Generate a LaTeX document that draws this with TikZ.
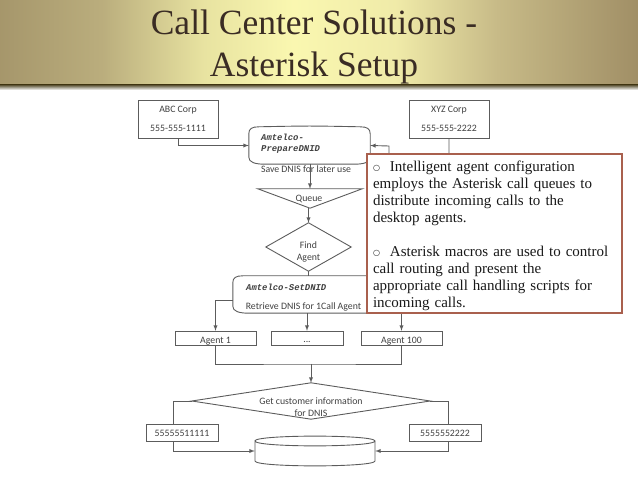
\documentclass[tikz,border=0pt]{standalone}
\usepackage{fontspec}
\setmainfont{Liberation Serif}
\newfontfamily\boxfont{Carlito}
\newfontfamily\codefont{Liberation Mono}
\newfontfamily\ringfont{DejaVu Sans}
\usetikzlibrary{arrows,positioning,calc}
\definecolor{linegray}{HTML}{5C5C5C}
\definecolor{textgray}{HTML}{404040}
\definecolor{titlebrown}{HTML}{3A2C24}
\definecolor{calloutred}{HTML}{A9604E}
\definecolor{banddark}{HTML}{5F5638}
\pgfdeclarehorizontalshading{titleband}{100bp}{
  rgb(0bp)=(0.65,0.59,0.42);
  rgb(25bp)=(0.65,0.59,0.42);
  rgb(33bp)=(0.73,0.68,0.49);
  rgb(41bp)=(0.91,0.89,0.63);
  rgb(48bp)=(0.98,0.97,0.69);
  rgb(56bp)=(0.94,0.92,0.66);
  rgb(64bp)=(0.78,0.73,0.53);
  rgb(75bp)=(0.63,0.56,0.40);
  rgb(100bp)=(0.63,0.56,0.40)}
\tikzstyle{corpbox}=[draw=linegray,fill=white,align=center,inner sep=0pt,minimum width=80pt,minimum height=38pt,text=textgray,font=\boxfont\fontsize{9.8}{10.5}\selectfont]
\tikzstyle{agentbox}=[draw=linegray,inner sep=0pt,minimum height=14pt,text=textgray,font=\boxfont\fontsize{9.8}{11}\selectfont]
\tikzstyle{numbox}=[agentbox,minimum width=72pt,minimum height=17pt]
\tikzstyle{outline}=[inner sep=0pt]
\tikzstyle{boxtext}=[inner sep=0pt,align=center,text=textgray,font=\boxfont\fontsize{9.8}{12}\selectfont]
\tikzstyle{codetext}=[inner sep=0pt,align=left,anchor=west,text=textgray,font=\codefont\bfseries\itshape\fontsize{8.9}{11}\selectfont]
\tikzstyle{flow}=[draw=linegray,line width=0.9pt]
\tikzstyle{conn}=[flow,-latex]
\newcommand{\ringmark}{{\ringfont\fontsize{8}{8}\selectfont\raisebox{1pt}{○}}}
\newcommand{\lowtext}[2]{\raisebox{#1}[0pt][0pt]{#2}}
\begin{document}
\begin{tikzpicture}[x=1pt,y=-1pt]
\useasboundingbox (0,0) rectangle (638,478);
% title band
\shade[shading=titleband] (0,0) rectangle (638,85);
\fill[top color=banddark,bottom color=white] (0,85) rectangle (638,90);
\node [inner sep=0pt,align=center,text=titlebrown,font=\fontsize{35.5}{42}\selectfont] (title) at (314,47) {Call Center Solutions -\\Asterisk Setup};
% top row
\node [corpbox] (abc) at (178,119) {ABC Corp\\[9pt]555-555-1111};
\node [corpbox] (xyz) at (449,119) {XYZ Corp\\[9pt]555-555-2222};
\node [outline,minimum width=121pt,minimum height=37pt] (prepare) at (309.5,145.5) {};
\draw [flow] ($(prepare.south west)+(0,-7)$) -- ($(prepare.north west)+(0,7)$)
  .. controls ($(prepare.north west)+(0,2)$) and ($(prepare.north west)+(3,0)$) .. ($(prepare.north west)+(10,0)$)
  .. controls ($(prepare.north)+(0,-1)$) .. ($(prepare.north east)+(-10,0)$)
  .. controls ($(prepare.north east)+(-3,0)$) and ($(prepare.north east)+(0,2)$) .. ($(prepare.north east)+(0,7)$)
  -- ($(prepare.south east)+(0,-7)$)
  .. controls ($(prepare.south east)+(0,-2)$) and ($(prepare.south east)+(-6,0)$) .. ($(prepare.south east)+(-16,0)$)
  -- ($(prepare.south west)+(16,0)$)
  .. controls ($(prepare.south west)+(6,0)$) and ($(prepare.south west)+(0,-2)$) .. cycle;
\node [codetext] (preparetext) at (261,143.5) {Amtelco-\\PrepareDNID};
\node [boxtext] (savetext) at (306,169) {Save DNIS for later use};
\draw [conn] (abc.south) |- (prepare.west);
\draw [conn] (xyz.south) |- (389,162) -- (389,146) -- (prepare.east);
% queue and find agent
\node [outline,minimum width=104pt,minimum height=19pt] (queue) at (310,198.5) {};
\draw [flow] (queue.north west) -- (queue.north east) -- (queue.south) -- cycle;
\node [boxtext] (queuetext) at (309,199) {Queue};
\node [outline,minimum width=85pt,minimum height=48pt] (findagent) at (308.5,247) {};
\draw [flow] (findagent.north) -- (findagent.east) -- (findagent.south) -- (findagent.west) -- cycle;
\node [boxtext] (findtext) at (308.5,252) {Find\\Agent};
\draw [conn] (prepare.south -| queue.north) -- (queue.north);
\draw [conn] (queue.south -| findagent.north) -- (findagent.north);
% set dnid
\node [outline,minimum width=187pt,minimum height=37pt] (setdnid) at (326.5,294.5) {};
\draw [flow] (findagent.south) -- (setdnid.north -| findagent.south);
\draw [flow] (setdnid.north east) -- ($(setdnid.north west)+(10,0)$)
  .. controls ($(setdnid.north west)+(3,0)$) and ($(setdnid.north west)+(0,2)$) .. ($(setdnid.north west)+(0,7)$)
  -- ($(setdnid.south west)+(0,-7)$)
  .. controls ($(setdnid.south west)+(0,-2)$) and ($(setdnid.south west)+(6,0)$) .. ($(setdnid.south west)+(16,0)$)
  -- (setdnid.south east);
\node [codetext] (setdnidtext) at (246,287) {Amtelco-SetDNID};
\node [boxtext] (retrievetext) at (303.5,307) {Retrieve DNIS for 1Call Agent};
% agents
\node [agentbox,minimum width=81pt] (agent1) at (215.5,338) {\lowtext{-6pt}{Agent 1}};
\node [agentbox,minimum width=72pt] (agentdots) at (307,338) {\lowtext{-5pt}{...}};
\node [agentbox,minimum width=81pt] (agent100) at (401.5,338) {\lowtext{-6pt}{Agent 100}};
\draw [conn] (setdnid.west |- 0,300.5) -| (agent1.north);
\draw [conn] (setdnid.south -| agentdots.north) -- (agentdots.north);
\draw [conn] (setdnid.south -| agent100.north) -- (agent100.north);
% customer lookup
\node [outline,minimum width=238pt,minimum height=36pt] (custinfo) at (311,401) {};
\draw [flow] (custinfo.north) -- (custinfo.east) -- (custinfo.south) -- (custinfo.west) -- cycle;
\node [boxtext] (custtext) at (311,407) {Get customer information\\for DNIS};
\coordinate (merge) at (311,364);
\draw [flow] (agent1.south) |- (merge) -| (agent100.south);
\draw [conn] (merge) -- (custinfo.north);
\node [numbox] (numleft) at (182,432.5) {\lowtext{-4.5pt}{55555511111}};
\node [numbox] (numright) at (445,432.5) {\lowtext{-4.5pt}{5555552222}};
% database
\node [outline,minimum width=120pt,minimum height=30pt] (db) at (315,451) {};
\draw [flow] (db.west |- 0,441) .. controls (255,434.5) and (375,434.5) .. (375,441)
  .. controls (375,447.5) and (255,447.5) .. (255,441) -- (255,461)
  .. controls (255,467.5) and (375,467.5) .. (375,461) -- (375,441);
\draw [flow] (custinfo.west) -| (numleft.north -| 173,0);
\draw [flow] (custinfo.east) -| (numright.north -| 448,0);
\draw [conn] (numleft.south -| 173,0) |- (db.west);
\draw [conn] (numright.south -| 448,0) |- (db.east);
% text panel
\node [draw=calloutred,line width=1.8pt,fill=white,inner sep=0pt,minimum width=255pt,minimum height=159pt] (panel) at (494.5,233.5) {};
\node [inner sep=0pt,text width=243pt,align=left,text=black!90,font=\fontsize{15}{17}\selectfont] (paneltext) at (494.5,236)
{\ringmark\ \ Intelligent agent configuration\\employs the Asterisk call queues to\\distribute incoming calls to the\\desktop agents.\\[17pt]\ringmark\ \ Asterisk macros are used to control\\call routing and present the\\appropriate call handling scripts for\\incoming calls.};
\end{tikzpicture}
\end{document}
